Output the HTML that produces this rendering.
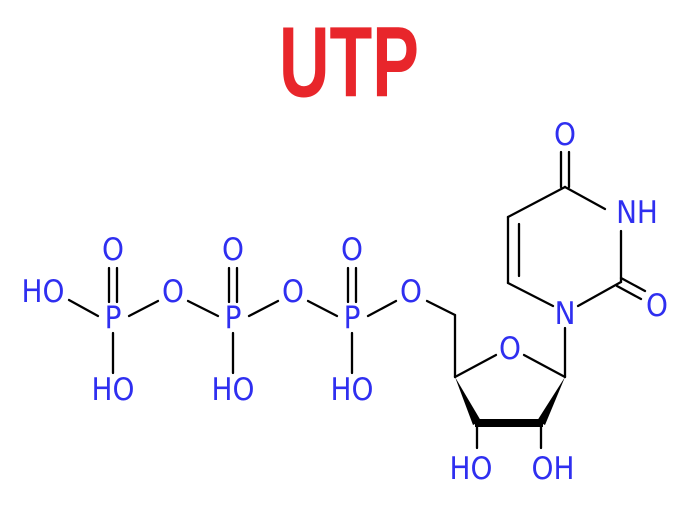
<!DOCTYPE html>
<html><head><meta charset="utf-8"><style>
body{margin:0;background:#fff;width:687px;height:500px;overflow:hidden}
svg text{font-family:"DejaVu Sans","Liberation Sans",sans-serif;font-stretch:condensed;fill:#2f2ff0;font-size:31px;text-anchor:middle;dominant-baseline:central}
</style></head><body>
<svg width="687" height="500" viewBox="0 0 687 500">
<text x="349" y="63" transform="translate(349 63) scale(0.7 1) translate(-349 -63)" style="font-family:'Liberation Sans',sans-serif;fill:#e8262b;font-size:100px;font-weight:bold">UTP</text>
<g stroke="#000" stroke-width="2.3" fill="none" stroke-linecap="round">
<line x1="69" y1="300" x2="98" y2="316"/>
<line x1="109" y1="268" x2="109" y2="302"/><line x1="117" y1="268" x2="117" y2="302"/>
<line x1="113" y1="333" x2="113" y2="373"/>
<line x1="129" y1="316" x2="158" y2="301"/>
<line x1="188" y1="301" x2="218" y2="316"/>
<line x1="229" y1="268" x2="229" y2="302"/><line x1="237" y1="268" x2="237" y2="302"/>
<line x1="233" y1="333" x2="233" y2="373"/>
<line x1="249" y1="316" x2="278" y2="301"/>
<line x1="308" y1="301" x2="337" y2="316"/>
<line x1="348" y1="268" x2="348" y2="302"/><line x1="356" y1="268" x2="356" y2="302"/>
<line x1="352" y1="333" x2="352" y2="373"/>
<line x1="368" y1="316" x2="396" y2="301"/>
<line x1="427" y1="301" x2="455" y2="315"/>
<line x1="455" y1="315" x2="455" y2="377"/>
<line x1="455" y1="377" x2="496" y2="355"/>
<line x1="524" y1="355" x2="565" y2="377"/>
<line x1="477" y1="423" x2="477" y2="448"/>
<line x1="541" y1="423" x2="541" y2="448"/>
<line x1="565" y1="377" x2="565" y2="328"/>
<line x1="553" y1="306" x2="508" y2="283"/>
<line x1="508" y1="283" x2="508" y2="217"/>
<line x1="519" y1="276" x2="519" y2="224"/>
<line x1="508" y1="217" x2="565" y2="187"/>
<line x1="561" y1="187" x2="561" y2="152"/>
<line x1="569" y1="187" x2="569" y2="152"/>
<line x1="565" y1="187" x2="605" y2="209"/>
<line x1="621" y1="231" x2="621" y2="282"/>
<line x1="621" y1="282" x2="578" y2="306"/>
<line x1="621" y1="278" x2="645" y2="291"/>
<line x1="617" y1="286" x2="641" y2="299"/>
</g>
<g fill="#000">
<polygon points="455,377 473,425 481,421"/>
<polygon points="565,377 537,421 545,425"/>
<polygon points="475,419 543,419 543,427 475,427"/>
</g>
<text x="43" y="292">HO</text>
<text x="113" y="250">O</text>
<text x="113" y="318">P</text>
<text x="113" y="390">HO</text>
<text x="173" y="292">O</text>
<text x="233" y="250">O</text>
<text x="233" y="318">P</text>
<text x="233" y="390">HO</text>
<text x="293" y="292">O</text>
<text x="352" y="250">O</text>
<text x="352" y="318">P</text>
<text x="352" y="390">HO</text>
<text x="411" y="292">O</text>
<text x="510" y="349">O</text>
<text x="565" y="314">N</text>
<text x="565" y="135">O</text>
<text x="637" y="213">NH</text>
<text x="657" y="306">O</text>
<text x="471" y="469">HO</text>
<text x="553" y="469">OH</text>
</svg>
</body></html>
